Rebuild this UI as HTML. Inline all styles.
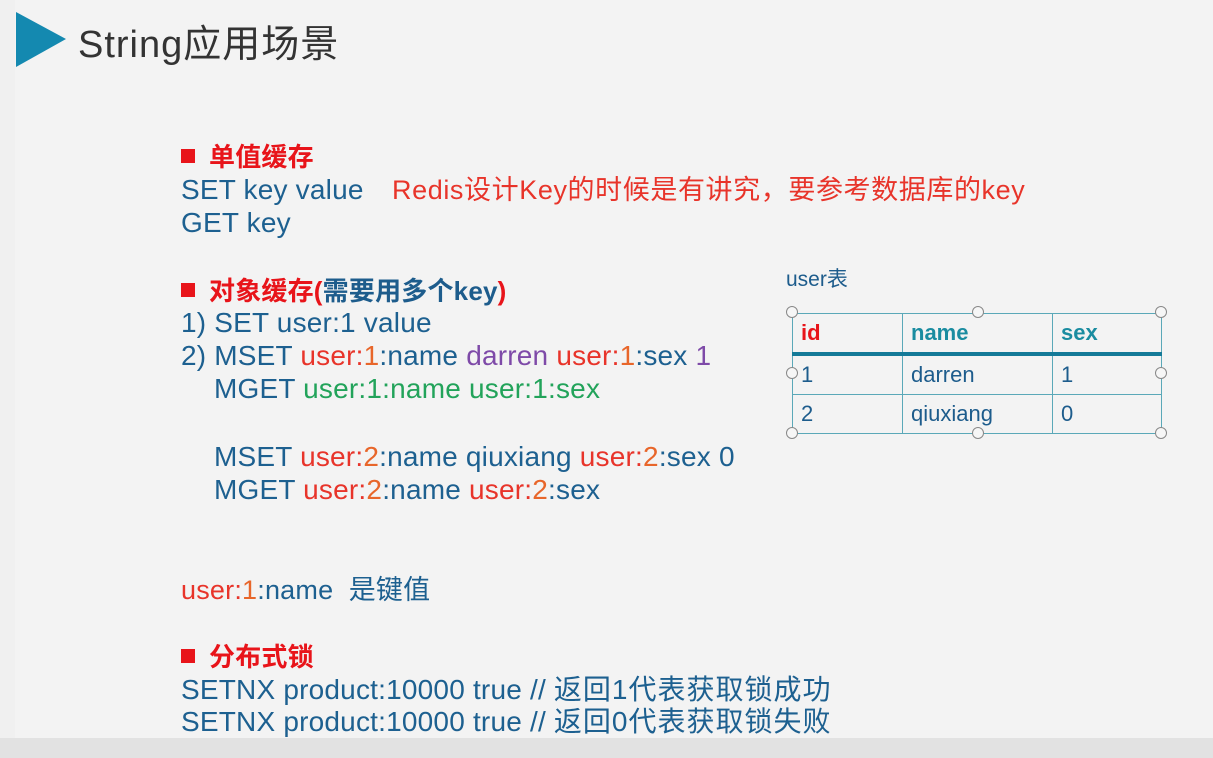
<!DOCTYPE html>
<html><head><meta charset="utf-8"><style>
body{margin:0;width:1213px;height:758px;overflow:hidden;background:#f0f0f0;position:relative;font-family:"Liberation Sans","Noto Sans CJK SC",sans-serif}
#main{position:absolute;left:15px;top:0;width:1198px;height:738px;background:#f3f3f3}
#bot{position:absolute;left:0;top:738px;width:1213px;height:20px;background:#e2e2e2}
.l{position:absolute;left:181px;font-size:28px;color:#1d6090;white-space:nowrap;line-height:30px;letter-spacing:0.2px}
.r{color:#e8342a}.o{color:#e8662a}.p{color:#7e4aa8}.g{color:#22a35a}
.h{font-weight:bold;color:#e8141a;font-size:26px}.hb{font-weight:bold;color:#1d5c8c;font-size:26px}
.sq{display:inline-block;width:14px;height:14px;background:#e8141a;margin-right:14px;vertical-align:3px}
.cj{letter-spacing:1px}
table{position:absolute;left:792px;top:313px;border-collapse:collapse;font-size:22px;color:#1d5c8c}
td{border:1.5px solid #5aa8b8;height:38px;padding:0 8px;}
.hd td{font-weight:bold;color:#1a8ca0;border-bottom:4px solid #147a98}
.c{position:absolute;width:10px;height:10px;border:1.5px solid #888;border-radius:50%;background:#f6f6f6}
</style></head><body>
<div id="main"></div><div id="bot"></div>
<svg style="position:absolute;left:16px;top:12px" width="52" height="56"><polygon points="0,0 50,27 0,55" fill="#1489b0"/></svg>
<div style="position:absolute;left:78px;top:13px;font-size:38px;color:#333;white-space:nowrap;letter-spacing:1px">String应用场景</div>
<div class="l" style="top:142px"><span class="sq"></span><span class="h">单值缓存</span></div>
<div class="l" style="top:175px">SET key value</div>
<div class="l r" style="top:175px;left:392px;color:#e8342a;font-size:27px;letter-spacing:0.6px">Redis设计Key的时候是有讲究，要参考数据库的key</div>
<div class="l" style="top:208px">GET key</div>
<div class="l" style="top:276px"><span class="sq"></span><span class="h">对象缓存(</span><span class="hb">需要用多个key</span><span class="h">)</span></div>
<div class="l" style="top:308px">1) SET user:1 value</div>
<div class="l" style="top:341px">2) MSET <span class="r">user:</span><span class="o">1</span>:name <span class="p">darren</span> <span class="r">user:</span><span class="o">1</span>:sex <span class="p">1</span></div>
<div class="l" style="top:374px;left:214px">MGET <span class="g">user:1:name user:1:sex</span></div>
<div class="l" style="top:442px;left:214px">MSET <span class="r">user:</span><span class="o">2</span>:name qiuxiang <span class="r">user:</span><span class="o">2</span>:sex 0</div>
<div class="l" style="top:475px;left:214px">MGET <span class="r">user:</span><span class="o">2</span>:name <span class="r">user:</span><span class="o">2</span>:sex</div>
<div class="l" style="top:575px;font-size:27px"><span class="r">user:</span><span class="o">1</span>:name &nbsp;是键值</div>
<div class="l" style="top:642px"><span class="sq"></span><span class="h">分布式锁</span></div>
<div class="l" style="top:675px">SETNX product:10000 true // <span class="cj">返回1代表获取锁成功</span></div>
<div class="l" style="top:707px">SETNX product:10000 true // <span class="cj">返回0代表获取锁失败</span></div>
<div style="position:absolute;left:786px;top:263px;font-size:21px;color:#1d5c8c">user表</div>
<table>
<tr class="hd"><td style="width:93px;color:#e8141a">id</td><td style="width:133px">name</td><td style="width:92px">sex</td></tr>
<tr><td>1</td><td>darren</td><td>1</td></tr>
<tr><td>2</td><td>qiuxiang</td><td>0</td></tr>
</table>
<div class="c" style="left:786px;top:306px"></div><div class="c" style="left:972px;top:306px"></div><div class="c" style="left:1155px;top:306px"></div>
<div class="c" style="left:786px;top:367px"></div><div class="c" style="left:1155px;top:367px"></div>
<div class="c" style="left:786px;top:427px"></div><div class="c" style="left:972px;top:427px"></div><div class="c" style="left:1155px;top:427px"></div>
</body></html>
